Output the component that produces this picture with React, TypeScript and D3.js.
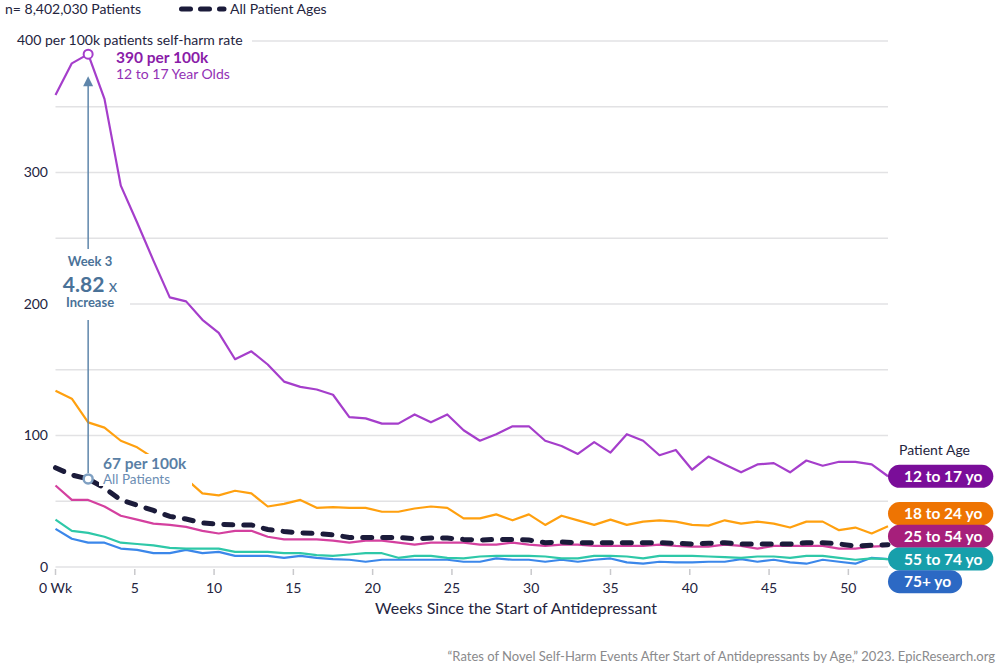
import { useEffect, useRef } from 'react';
import * as d3 from 'd3';

// weekly self-harm rate per 100k patients, weeks 0..51 after antidepressant start
const age12to17 = [359, 383, 390, 356, 290, 262, 233, 205, 202, 188, 178, 158, 164, 154, 141, 137, 135, 131, 114, 113, 109, 109, 116, 110, 116, 104, 96, 101, 107, 107, 96, 92, 86, 95, 87, 101, 96, 85, 89, 74, 84, 78, 72, 78, 79, 72, 81, 77, 80, 80, 78, 69];
const age18to24 = [134, 128, 110, 106, 96, 91, 83, 75, 67, 56, 54.5, 58, 56, 46, 48, 51, 45, 45.5, 45, 45, 42, 42, 44.5, 46, 45, 37, 37, 40, 35.5, 40, 32, 39, 35.5, 32, 36, 32, 34.5, 35.5, 34.5, 32, 31.5, 35.5, 33, 34.5, 33, 30, 34.5, 34.5, 28, 30, 25.5, 31];
const age25to54 = [62, 51, 51, 46, 39, 36, 33, 32, 30.5, 27.5, 25.5, 27.5, 27.5, 23, 21, 21, 21, 20, 18.5, 20, 20, 18.5, 17, 18.5, 18.5, 18.5, 17, 17, 18.5, 17, 16, 17, 17, 16, 16, 16, 16, 17, 16, 15.5, 15.5, 17, 16, 14, 16, 16, 16, 16, 14, 14, 15.5, 16];
const age55to74 = [36, 27.5, 26, 23, 18.5, 17.5, 16.5, 14.5, 14, 14, 14, 11.5, 11.5, 11.5, 10.5, 10.5, 9, 8.5, 9.5, 10.5, 10.5, 7, 8.5, 8.5, 7, 6.5, 8, 8.5, 8.5, 8.5, 8, 6.5, 6.5, 8.5, 8.5, 8, 6.5, 8.5, 8.5, 8.5, 8, 7.5, 7, 8, 8, 7, 8.5, 8.5, 7, 5.5, 6.5, 6];
const age75plus = [29, 21.5, 18.5, 18.5, 14, 13, 10.5, 10.5, 13, 10.5, 11.5, 8.5, 8.5, 8.5, 7, 8.5, 7, 6, 5.5, 4, 5.5, 5.5, 5.5, 5.5, 5.5, 4, 4, 6.5, 5.5, 5.5, 4, 5.5, 4, 5.5, 6.5, 3.5, 2.5, 4, 3.5, 3.5, 4, 4, 6, 4, 5.5, 3.5, 2.5, 5.5, 4, 2.5, 7, 6];
const allAges = [75.5, 70, 67, 60, 51, 47, 43, 38.5, 36.5, 33.5, 32.5, 32, 32, 28.5, 27, 26, 25.5, 24.5, 22.5, 22.5, 22.5, 22.5, 21.5, 22, 22, 21, 20.5, 21, 21, 20.5, 18.5, 19, 18.5, 18.5, 18.5, 18.5, 18.5, 18.5, 18, 17.5, 18, 18.5, 17.5, 17.5, 17.5, 17.5, 18.5, 18.5, 17.5, 16, 16.5, 17];

const ageLabels = ['12 to 17 yo', '18 to 24 yo', '25 to 54 yo', '55 to 74 yo', '75+ yo'];
const ageSeries = [age12to17, age18to24, age25to54, age55to74, age75plus];
const xTicks = [0, 5, 10, 15, 20, 25, 30, 35, 40, 45, 50];
const yTicks = [0, 100, 200, 300];
const yGrid = [0, 50, 100, 150, 200, 250, 300, 350];

const lineColors = ['#a53ecb', '#ffa00f', '#d4409f', '#2ec8a8', '#3b87ea'];
const pillColors = ['#7a0d99', '#ee7402', '#a61f7b', '#179fab', '#2c69c4'];

const FONT = 'Lato, "Noto Sans", sans-serif';
const INK = '#24243e';

export default function App() {
  const svgRef = useRef<SVGSVGElement>(null);
  const width = 1000;
  const height = 667;

  useEffect(() => {
    if (!svgRef.current) return;
    const svg = d3.select(svgRef.current);
    svg.selectAll('*').remove();

    const left = 55.5;
    const right = 888;
    const x = d3.scaleLinear().domain([0, 52.5]).range([left, right]);
    const xPt = d3.scalePoint<number>().domain(d3.range(age12to17.length)).range([left, right]);
    const y = d3.scaleLinear().domain([0, 400]).range([567, 41]);

    // grid
    svg.append('g').selectAll('line').data(yGrid).enter().append('line')
      .attr('x1', left).attr('x2', right)
      .attr('y1', d => y(d)).attr('y2', d => y(d))
      .attr('stroke', '#e2e2e4').attr('stroke-width', 1.3);
    svg.append('line')
      .attr('x1', 252).attr('x2', right).attr('y1', y(400)).attr('y2', y(400))
      .attr('stroke', '#e2e2e4').attr('stroke-width', 1.3);

    // y labels
    svg.append('g').selectAll('text').data(yTicks).enter().append('text')
      .attr('x', 48).attr('y', d => y(d)).attr('dy', '0.35em')
      .attr('text-anchor', 'end')
      .attr('font-family', FONT).attr('font-size', 14).attr('fill', INK)
      .text(d => d);
    svg.append('text')
      .attr('x', 17).attr('y', y(400)).attr('dy', '0.3em')
      .attr('font-family', FONT).attr('font-size', 14).attr('fill', INK)
      .text('400 per 100k patients self-harm rate');

    // x ticks
    const xg = svg.append('g');
    xg.selectAll('line').data(xTicks).enter().append('line')
      .attr('x1', d => x(d)).attr('x2', d => x(d))
      .attr('y1', 569).attr('y2', 575)
      .attr('stroke', '#c9c9cc').attr('stroke-width', 1.5);
    xg.selectAll('text').data(xTicks).enter().append('text')
      .attr('x', d => x(d)).attr('y', 593)
      .attr('text-anchor', 'middle')
      .attr('font-family', FONT).attr('font-size', 14).attr('fill', INK)
      .text(d => (d === 0 ? '0 Wk' : String(d)));
    svg.append('text')
      .attr('x', 516).attr('y', 614).attr('text-anchor', 'middle')
      .attr('font-family', FONT).attr('font-size', 16).attr('fill', INK)
      .text('Weeks Since the Start of Antidepressant');

    // lines, bottom group first
    const line = d3.line<number>().x((_, i) => xPt(i) as number).y(d => y(d));
    for (let k = ageSeries.length - 1; k >= 0; k--) {
      svg.append('path')
        .datum(ageSeries[k])
        .attr('fill', 'none')
        .attr('stroke', lineColors[k])
        .attr('stroke-width', 2.2)
        .attr('stroke-linejoin', 'round')
        .attr('d', line);
    }

    svg.append('path')
      .datum(allAges)
      .attr('fill', 'none')
      .attr('stroke', '#1b1b3a')
      .attr('stroke-width', 5)
      .attr('stroke-linecap', 'round')
      .attr('stroke-dasharray', '9,11')
      .attr('d', line);

    // 67 per 100k annotation
    const aX = xPt(2) as number;
    const aY = y(allAges[2]);
    svg.append('rect')
      .attr('x', 99).attr('y', 454).attr('width', 93).attr('height', 32)
      .attr('fill', '#fff');
    svg.append('text')
      .attr('x', 103).attr('y', 469)
      .attr('font-family', FONT).attr('font-size', 15.5).attr('font-weight', 'bold')
      .attr('fill', '#5a7fa5').text('67 per 100k');
    svg.append('text')
      .attr('x', 103).attr('y', 484)
      .attr('font-family', FONT).attr('font-size', 13.5)
      .attr('fill', '#6b8db3').text('All Patients');

    // arrow from all-ages to 12-17 peak
    const pX = xPt(2) as number;
    const pY = y(age12to17[2]);
    const arrowColor = '#5f86ab';
    svg.append('line')
      .attr('x1', aX).attr('x2', aX).attr('y1', aY - 6).attr('y2', 320)
      .attr('stroke', arrowColor).attr('stroke-width', 1.5);
    svg.append('line')
      .attr('x1', aX).attr('x2', aX).attr('y1', 249).attr('y2', pY + 30)
      .attr('stroke', arrowColor).attr('stroke-width', 1.5);
    svg.append('path')
      .attr('d', `M${pX},${pY + 22} L${pX - 5},${pY + 32} L${pX + 5},${pY + 32} Z`)
      .attr('fill', arrowColor);

    svg.append('rect')
      .attr('x', 52).attr('y', 250).attr('width', 78).attr('height', 68)
      .attr('fill', '#fff');
    const note = svg.append('g')
      .attr('font-family', FONT).attr('font-weight', 'bold').attr('fill', '#4a7298')
      .attr('text-anchor', 'middle');
    note.append('text').attr('x', 90).attr('y', 266).attr('font-size', 13).text('Week 3');
    const big = note.append('text').attr('x', 90).attr('y', 292);
    big.append('tspan').attr('font-size', 21).text('4.82');
    big.append('tspan').attr('font-size', 17).attr('font-weight', 'normal').text(' x');
    note.append('text').attr('x', 90).attr('y', 307).attr('font-size', 13).text('Increase');

    svg.append('circle')
      .attr('cx', aX).attr('cy', aY).attr('r', 4.5)
      .attr('fill', '#fff').attr('stroke', '#7fa0c2').attr('stroke-width', 2.5);
    svg.append('circle')
      .attr('cx', pX).attr('cy', pY).attr('r', 4.5)
      .attr('fill', '#fff').attr('stroke', '#a53ecb').attr('stroke-width', 2);

    svg.append('text')
      .attr('x', 116).attr('y', 63)
      .attr('font-family', FONT).attr('font-size', 15.5).attr('font-weight', 'bold')
      .attr('fill', '#8a1ca8').text('390 per 100k');
    svg.append('text')
      .attr('x', 116).attr('y', 79)
      .attr('font-family', FONT).attr('font-size', 14)
      .attr('fill', '#9331b5').text('12 to 17 Year Olds');

    // end pills, spread so they don't collide
    const spacing = 22.7;
    const natural = ageSeries.map(s => y(s[s.length - 1]));
    const order = d3.range(natural.length).sort((a, b) => natural[a] - natural[b]);
    const placed: number[] = new Array(natural.length);
    const groups: number[][] = order.map(i => [i]);
    const centerOf = (g: number[]) => d3.mean(g, i => natural[i]) as number;
    let merged = true;
    while (merged) {
      merged = false;
      for (let g = 0; g < groups.length - 1; g++) {
        const a = groups[g], b = groups[g + 1];
        const aBottom = centerOf(a) + ((a.length - 1) / 2) * spacing;
        const bTop = centerOf(b) - ((b.length - 1) / 2) * spacing;
        if (bTop - aBottom < spacing) {
          groups.splice(g, 2, a.concat(b));
          merged = true;
          break;
        }
      }
    }
    groups.forEach(g => {
      const c = centerOf(g);
      g.forEach((i, j) => { placed[i] = c + (j - (g.length - 1) / 2) * spacing; });
    });

    svg.append('text')
      .attr('x', 899).attr('y', 455)
      .attr('font-family', FONT).attr('font-size', 14).attr('fill', INK)
      .text('Patient Age');

    const pills = svg.append('g');
    ageLabels.forEach((name, i) => {
      const g = pills.append('g');
      const rect = g.append('rect').attr('fill', pillColors[i]);
      const t = g.append('text')
        .attr('x', 888 + 16).attr('y', placed[i]).attr('dy', '0.36em')
        .attr('font-family', FONT).attr('font-size', 15.5).attr('font-weight', 'bold')
        .attr('fill', '#fff').text(name);
      const w = (t.node() as SVGTextElement).getComputedTextLength();
      rect.attr('x', 888).attr('y', placed[i] - 11.5)
        .attr('width', w + 27).attr('height', 23).attr('rx', 11.5);
    });

    // top legend
    svg.append('text')
      .attr('x', 5).attr('y', 14)
      .attr('font-family', FONT).attr('font-size', 14).attr('fill', INK)
      .text('n= 8,402,030 Patients');
    svg.append('line')
      .attr('x1', 181.5).attr('x2', 224).attr('y1', 9).attr('y2', 9)
      .attr('stroke', '#1b1b3a').attr('stroke-width', 5)
      .attr('stroke-linecap', 'round').attr('stroke-dasharray', '9,10');
    svg.append('text')
      .attr('x', 230).attr('y', 14)
      .attr('font-family', FONT).attr('font-size', 14).attr('fill', INK)
      .text('All Patient Ages');

    svg.append('text')
      .attr('x', 995).attr('y', 661).attr('text-anchor', 'end')
      .attr('font-family', FONT).attr('font-size', 13).attr('fill', '#8a8a8c')
      .text('\u201cRates of Novel Self-Harm Events After Start of Antidepressants by Age,\u201d 2023. EpicResearch.org');
  }, []);

  return (
    <div style={{ position: 'fixed', left: 0, top: 0, width, height, background: '#fff' }}>
      <svg ref={svgRef} width={width} height={height} />
    </div>
  );
}
